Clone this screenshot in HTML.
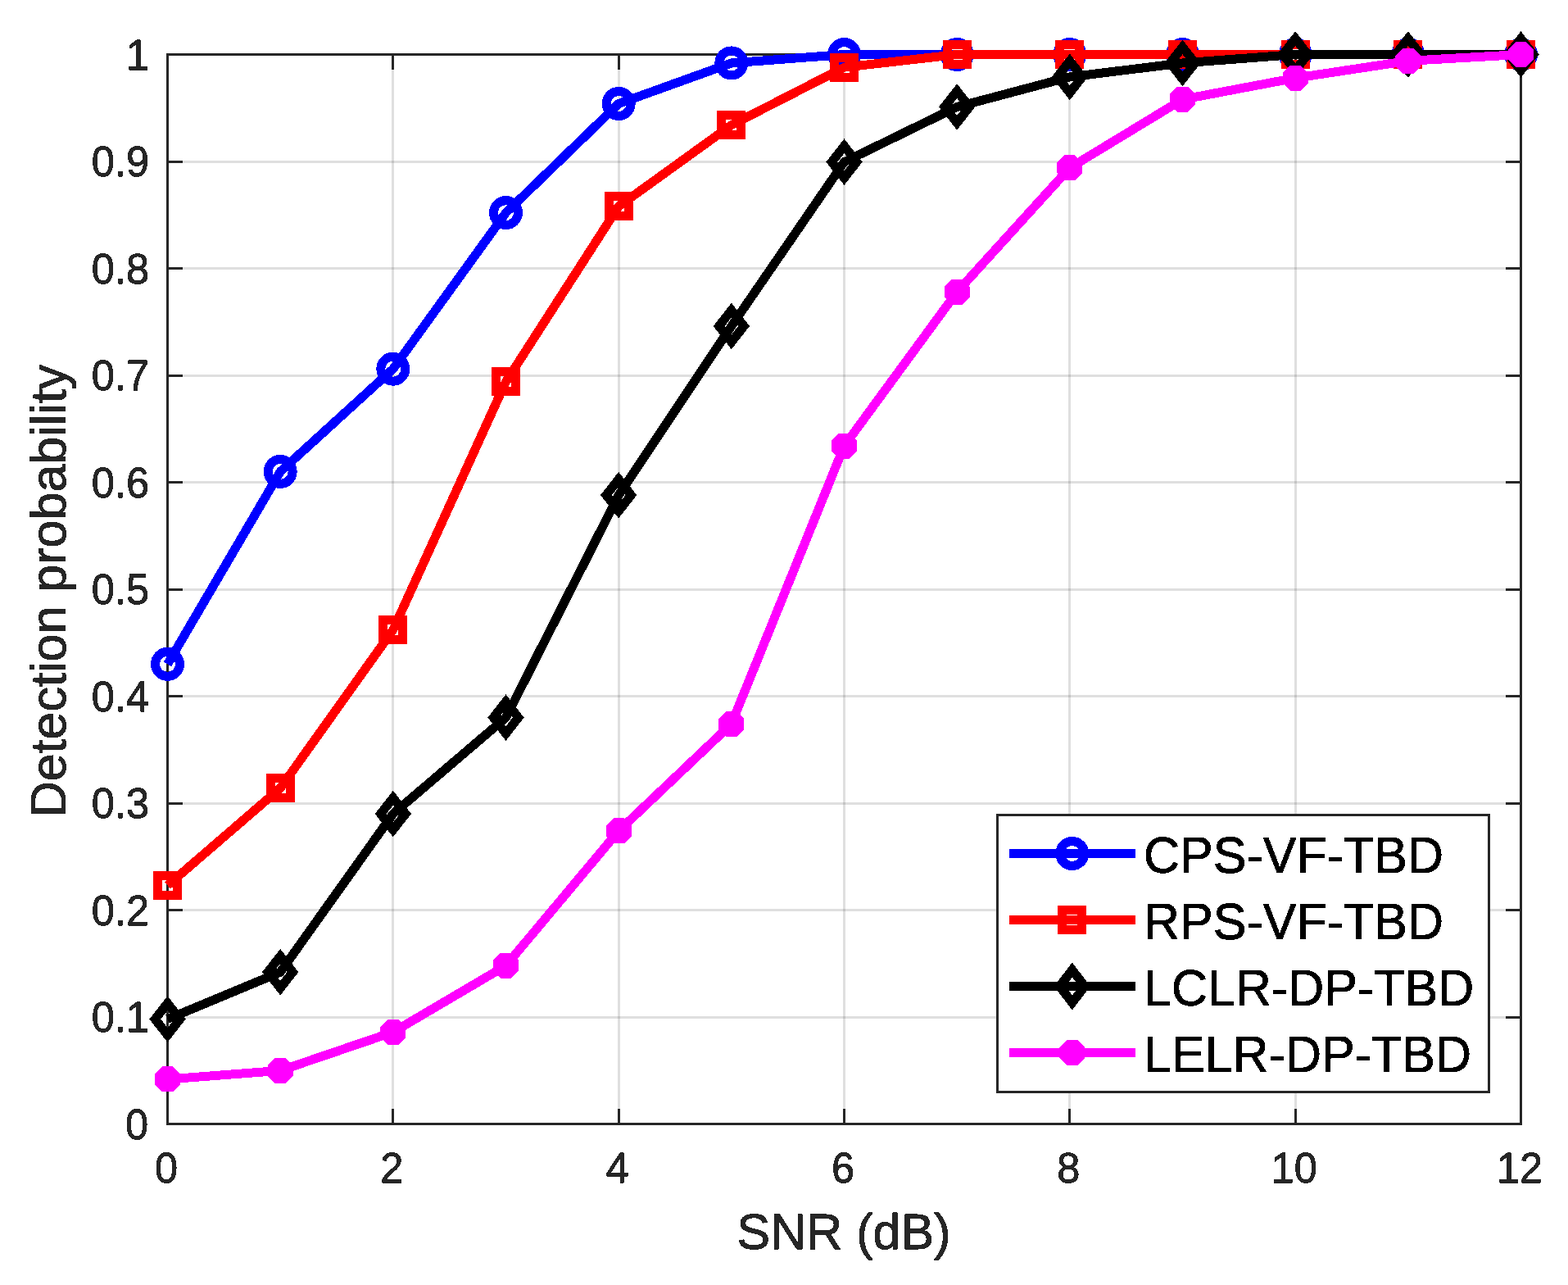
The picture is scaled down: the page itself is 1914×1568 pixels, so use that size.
<!DOCTYPE html>
<html><head><meta charset="utf-8"><title>Detection probability vs SNR</title>
<style>
html,body{margin:0;padding:0;background:#fff;}
svg{display:block;}
text{font-family:"Liberation Sans",Arial,Helvetica,sans-serif;}
</style></head><body>
<svg width="1914" height="1568" viewBox="0 0 1914 1568">
<rect x="0" y="0" width="1914" height="1568" fill="#fff"/>
<defs><filter id="bin" x="-5%" y="-20%" width="110%" height="140%" color-interpolation-filters="sRGB"><feComponentTransfer><feFuncA type="discrete" tableValues="0 1"/></feComponentTransfer></filter></defs>
<g stroke="#262626" stroke-opacity="0.15" stroke-width="3" shape-rendering="crispEdges">
<line x1="479.83" y1="66.5" x2="479.83" y2="1371.5"/>
<line x1="755.17" y1="66.5" x2="755.17" y2="1371.5"/>
<line x1="1030.5" y1="66.5" x2="1030.5" y2="1371.5"/>
<line x1="1305.83" y1="66.5" x2="1305.83" y2="1371.5"/>
<line x1="1581.17" y1="66.5" x2="1581.17" y2="1371.5"/>
<line x1="204.5" y1="1241" x2="1856.5" y2="1241"/>
<line x1="204.5" y1="1110.5" x2="1856.5" y2="1110.5"/>
<line x1="204.5" y1="980" x2="1856.5" y2="980"/>
<line x1="204.5" y1="849.5" x2="1856.5" y2="849.5"/>
<line x1="204.5" y1="719" x2="1856.5" y2="719"/>
<line x1="204.5" y1="588.5" x2="1856.5" y2="588.5"/>
<line x1="204.5" y1="458" x2="1856.5" y2="458"/>
<line x1="204.5" y1="327.5" x2="1856.5" y2="327.5"/>
<line x1="204.5" y1="197" x2="1856.5" y2="197"/>
</g>
<g stroke="#262626" stroke-width="3" shape-rendering="crispEdges">
<line x1="204.5" y1="1371.5" x2="204.5" y2="1353"/>
<line x1="204.5" y1="66.5" x2="204.5" y2="85"/>
<line x1="479.83" y1="1371.5" x2="479.83" y2="1353"/>
<line x1="479.83" y1="66.5" x2="479.83" y2="85"/>
<line x1="755.17" y1="1371.5" x2="755.17" y2="1353"/>
<line x1="755.17" y1="66.5" x2="755.17" y2="85"/>
<line x1="1030.5" y1="1371.5" x2="1030.5" y2="1353"/>
<line x1="1030.5" y1="66.5" x2="1030.5" y2="85"/>
<line x1="1305.83" y1="1371.5" x2="1305.83" y2="1353"/>
<line x1="1305.83" y1="66.5" x2="1305.83" y2="85"/>
<line x1="1581.17" y1="1371.5" x2="1581.17" y2="1353"/>
<line x1="1581.17" y1="66.5" x2="1581.17" y2="85"/>
<line x1="1856.5" y1="1371.5" x2="1856.5" y2="1353"/>
<line x1="1856.5" y1="66.5" x2="1856.5" y2="85"/>
<line x1="204.5" y1="1371.5" x2="223" y2="1371.5"/>
<line x1="1856.5" y1="1371.5" x2="1838" y2="1371.5"/>
<line x1="204.5" y1="1241" x2="223" y2="1241"/>
<line x1="1856.5" y1="1241" x2="1838" y2="1241"/>
<line x1="204.5" y1="1110.5" x2="223" y2="1110.5"/>
<line x1="1856.5" y1="1110.5" x2="1838" y2="1110.5"/>
<line x1="204.5" y1="980" x2="223" y2="980"/>
<line x1="1856.5" y1="980" x2="1838" y2="980"/>
<line x1="204.5" y1="849.5" x2="223" y2="849.5"/>
<line x1="1856.5" y1="849.5" x2="1838" y2="849.5"/>
<line x1="204.5" y1="719" x2="223" y2="719"/>
<line x1="1856.5" y1="719" x2="1838" y2="719"/>
<line x1="204.5" y1="588.5" x2="223" y2="588.5"/>
<line x1="1856.5" y1="588.5" x2="1838" y2="588.5"/>
<line x1="204.5" y1="458" x2="223" y2="458"/>
<line x1="1856.5" y1="458" x2="1838" y2="458"/>
<line x1="204.5" y1="327.5" x2="223" y2="327.5"/>
<line x1="1856.5" y1="327.5" x2="1838" y2="327.5"/>
<line x1="204.5" y1="197" x2="223" y2="197"/>
<line x1="1856.5" y1="197" x2="1838" y2="197"/>
<line x1="204.5" y1="66.5" x2="223" y2="66.5"/>
<line x1="1856.5" y1="66.5" x2="1838" y2="66.5"/>
<rect x="204.5" y="66.5" width="1652" height="1305" fill="none"/>
</g>
<g fill="#262626" stroke="#262626" stroke-width="0.9" font-size="50.5" filter="url(#bin)">
<text transform="translate(203,1443) scale(1,1.025)" text-anchor="middle">0</text>
<text transform="translate(478.33,1443) scale(1,1.025)" text-anchor="middle">2</text>
<text transform="translate(753.67,1443) scale(1,1.025)" text-anchor="middle">4</text>
<text transform="translate(1029,1443) scale(1,1.025)" text-anchor="middle">6</text>
<text transform="translate(1304.33,1443) scale(1,1.025)" text-anchor="middle">8</text>
<text transform="translate(1579.67,1443) scale(1,1.025)" text-anchor="middle">10</text>
<text transform="translate(1855,1443) scale(1,1.025)" text-anchor="middle">12</text>
<text transform="translate(181,1389.5) scale(1,1.025)" text-anchor="end">0</text>
<text transform="translate(182,1259) scale(1,1.025)" text-anchor="end">0.1</text>
<text transform="translate(182,1128.5) scale(1,1.025)" text-anchor="end">0.2</text>
<text transform="translate(182,998) scale(1,1.025)" text-anchor="end">0.3</text>
<text transform="translate(182,867.5) scale(1,1.025)" text-anchor="end">0.4</text>
<text transform="translate(182,737) scale(1,1.025)" text-anchor="end">0.5</text>
<text transform="translate(182,606.5) scale(1,1.025)" text-anchor="end">0.6</text>
<text transform="translate(182,476) scale(1,1.025)" text-anchor="end">0.7</text>
<text transform="translate(182,345.5) scale(1,1.025)" text-anchor="end">0.8</text>
<text transform="translate(182,215) scale(1,1.025)" text-anchor="end">0.9</text>
<text transform="translate(182,84.5) scale(1,1.025)" text-anchor="end">1</text>
</g>
<g filter="url(#bin)"><text transform="translate(1030,1524) scale(1,1.01)" font-size="61" fill="#262626" stroke="#262626" stroke-width="0.9" text-anchor="middle">SNR (dB)</text></g>
<g filter="url(#bin)"><text transform="translate(80,721) rotate(-90) scale(1,1.0)" font-size="61" fill="#262626" stroke="#262626" stroke-width="0.9" text-anchor="middle">Detection probability</text></g>
<g shape-rendering="crispEdges">
<polyline points="204.5,810.35 342.17,575.45 479.83,450.17 617.5,259.64 755.17,126.53 892.83,76.94 1030.5,66.5 1168.17,66.5 1305.83,66.5 1443.5,66.5 1581.17,66.5 1718.83,66.5 1856.5,66.5" fill="none" stroke="#0000ff" stroke-width="11" stroke-linejoin="miter" stroke-miterlimit="10"/>
<circle cx="204.5" cy="810.35" r="15" fill="none" stroke="#0000ff" stroke-width="11"/>
<circle cx="342.17" cy="575.45" r="15" fill="none" stroke="#0000ff" stroke-width="11"/>
<circle cx="479.83" cy="450.17" r="15" fill="none" stroke="#0000ff" stroke-width="11"/>
<circle cx="617.5" cy="259.64" r="15" fill="none" stroke="#0000ff" stroke-width="11"/>
<circle cx="755.17" cy="126.53" r="15" fill="none" stroke="#0000ff" stroke-width="11"/>
<circle cx="892.83" cy="76.94" r="15" fill="none" stroke="#0000ff" stroke-width="11"/>
<circle cx="1030.5" cy="66.5" r="15" fill="none" stroke="#0000ff" stroke-width="11"/>
<circle cx="1168.17" cy="66.5" r="15" fill="none" stroke="#0000ff" stroke-width="11"/>
<circle cx="1305.83" cy="66.5" r="15" fill="none" stroke="#0000ff" stroke-width="11"/>
<circle cx="1443.5" cy="66.5" r="15" fill="none" stroke="#0000ff" stroke-width="11"/>
<circle cx="1581.17" cy="66.5" r="15" fill="none" stroke="#0000ff" stroke-width="11"/>
<circle cx="1718.83" cy="66.5" r="15" fill="none" stroke="#0000ff" stroke-width="11"/>
<circle cx="1856.5" cy="66.5" r="15" fill="none" stroke="#0000ff" stroke-width="11"/>
<polyline points="204.5,1080.49 342.17,961.73 479.83,768.59 617.5,465.83 755.17,251.81 892.83,152.63 1030.5,82.16 1168.17,66.5 1305.83,66.5 1443.5,66.5 1581.17,66.5 1718.83,66.5 1856.5,66.5" fill="none" stroke="#ff0000" stroke-width="11" stroke-linejoin="miter" stroke-miterlimit="10"/>
<rect x="192.5" y="1068.49" width="24" height="24" fill="none" stroke="#ff0000" stroke-width="11"/>
<rect x="330.17" y="949.73" width="24" height="24" fill="none" stroke="#ff0000" stroke-width="11"/>
<rect x="467.83" y="756.59" width="24" height="24" fill="none" stroke="#ff0000" stroke-width="11"/>
<rect x="605.5" y="453.83" width="24" height="24" fill="none" stroke="#ff0000" stroke-width="11"/>
<rect x="743.17" y="239.81" width="24" height="24" fill="none" stroke="#ff0000" stroke-width="11"/>
<rect x="880.83" y="140.63" width="24" height="24" fill="none" stroke="#ff0000" stroke-width="11"/>
<rect x="1018.5" y="70.16" width="24" height="24" fill="none" stroke="#ff0000" stroke-width="11"/>
<rect x="1156.17" y="54.5" width="24" height="24" fill="none" stroke="#ff0000" stroke-width="11"/>
<rect x="1293.83" y="54.5" width="24" height="24" fill="none" stroke="#ff0000" stroke-width="11"/>
<rect x="1431.5" y="54.5" width="24" height="24" fill="none" stroke="#ff0000" stroke-width="11"/>
<rect x="1569.17" y="54.5" width="24" height="24" fill="none" stroke="#ff0000" stroke-width="11"/>
<rect x="1706.83" y="54.5" width="24" height="24" fill="none" stroke="#ff0000" stroke-width="11"/>
<rect x="1844.5" y="54.5" width="24" height="24" fill="none" stroke="#ff0000" stroke-width="11"/>
<polyline points="204.5,1243.61 342.17,1186.19 479.83,993.05 617.5,875.6 755.17,604.16 892.83,397.97 1030.5,197.65 1168.17,130.45 1305.83,93.9 1443.5,76.94 1581.17,66.5 1718.83,66.5 1856.5,66.5" fill="none" stroke="#000000" stroke-width="11" stroke-linejoin="miter" stroke-miterlimit="10"/>
<polygon points="204.5,1224.21 219.7,1243.61 204.5,1263.01 189.3,1243.61" fill="none" stroke="#000000" stroke-width="11" stroke-miterlimit="10"/>
<polygon points="342.17,1166.79 357.37,1186.19 342.17,1205.59 326.97,1186.19" fill="none" stroke="#000000" stroke-width="11" stroke-miterlimit="10"/>
<polygon points="479.83,973.65 495.03,993.05 479.83,1012.45 464.63,993.05" fill="none" stroke="#000000" stroke-width="11" stroke-miterlimit="10"/>
<polygon points="617.5,856.2 632.7,875.6 617.5,895 602.3,875.6" fill="none" stroke="#000000" stroke-width="11" stroke-miterlimit="10"/>
<polygon points="755.17,584.76 770.37,604.16 755.17,623.56 739.97,604.16" fill="none" stroke="#000000" stroke-width="11" stroke-miterlimit="10"/>
<polygon points="892.83,378.57 908.03,397.97 892.83,417.37 877.63,397.97" fill="none" stroke="#000000" stroke-width="11" stroke-miterlimit="10"/>
<polygon points="1030.5,178.25 1045.7,197.65 1030.5,217.05 1015.3,197.65" fill="none" stroke="#000000" stroke-width="11" stroke-miterlimit="10"/>
<polygon points="1168.17,111.05 1183.37,130.45 1168.17,149.85 1152.97,130.45" fill="none" stroke="#000000" stroke-width="11" stroke-miterlimit="10"/>
<polygon points="1305.83,74.5 1321.03,93.9 1305.83,113.3 1290.63,93.9" fill="none" stroke="#000000" stroke-width="11" stroke-miterlimit="10"/>
<polygon points="1443.5,57.54 1458.7,76.94 1443.5,96.34 1428.3,76.94" fill="none" stroke="#000000" stroke-width="11" stroke-miterlimit="10"/>
<polygon points="1581.17,47.1 1596.37,66.5 1581.17,85.9 1565.97,66.5" fill="none" stroke="#000000" stroke-width="11" stroke-miterlimit="10"/>
<polygon points="1718.83,47.1 1734.03,66.5 1718.83,85.9 1703.63,66.5" fill="none" stroke="#000000" stroke-width="11" stroke-miterlimit="10"/>
<polygon points="1856.5,47.1 1871.7,66.5 1856.5,85.9 1841.3,66.5" fill="none" stroke="#000000" stroke-width="11" stroke-miterlimit="10"/>
<polyline points="204.5,1316.95 342.17,1306.38 479.83,1259.4 617.5,1178.36 755.17,1013.93 892.83,883.43 1030.5,544.13 1168.17,356.21 1305.83,204.83 1443.5,121.31 1581.17,95.21 1718.83,74.33 1856.5,66.5" fill="none" stroke="#ff00ff" stroke-width="11" stroke-linejoin="miter" stroke-miterlimit="10"/>
<polygon points="214.5,1321.09 208.64,1326.95 200.36,1326.95 194.5,1321.09 194.5,1312.81 200.36,1306.95 208.64,1306.95 214.5,1312.81" fill="#ff00ff" stroke="#ff00ff" stroke-width="11"/>
<polygon points="352.17,1310.52 346.31,1316.38 338.02,1316.38 332.17,1310.52 332.17,1302.24 338.02,1296.38 346.31,1296.38 352.17,1302.24" fill="#ff00ff" stroke="#ff00ff" stroke-width="11"/>
<polygon points="489.83,1263.54 483.98,1269.4 475.69,1269.4 469.83,1263.54 469.83,1255.26 475.69,1249.4 483.98,1249.4 489.83,1255.26" fill="#ff00ff" stroke="#ff00ff" stroke-width="11"/>
<polygon points="627.5,1182.5 621.64,1188.36 613.36,1188.36 607.5,1182.5 607.5,1174.22 613.36,1168.36 621.64,1168.36 627.5,1174.22" fill="#ff00ff" stroke="#ff00ff" stroke-width="11"/>
<polygon points="765.17,1018.07 759.31,1023.93 751.02,1023.93 745.17,1018.07 745.17,1009.79 751.02,1003.93 759.31,1003.93 765.17,1009.79" fill="#ff00ff" stroke="#ff00ff" stroke-width="11"/>
<polygon points="902.83,887.57 896.98,893.43 888.69,893.43 882.83,887.57 882.83,879.29 888.69,873.43 896.98,873.43 902.83,879.29" fill="#ff00ff" stroke="#ff00ff" stroke-width="11"/>
<polygon points="1040.5,548.27 1034.64,554.13 1026.36,554.13 1020.5,548.27 1020.5,539.99 1026.36,534.13 1034.64,534.13 1040.5,539.99" fill="#ff00ff" stroke="#ff00ff" stroke-width="11"/>
<polygon points="1178.17,360.35 1172.31,366.21 1164.02,366.21 1158.17,360.35 1158.17,352.07 1164.02,346.21 1172.31,346.21 1178.17,352.07" fill="#ff00ff" stroke="#ff00ff" stroke-width="11"/>
<polygon points="1315.83,208.97 1309.98,214.83 1301.69,214.83 1295.83,208.97 1295.83,200.69 1301.69,194.83 1309.98,194.83 1315.83,200.69" fill="#ff00ff" stroke="#ff00ff" stroke-width="11"/>
<polygon points="1453.5,125.45 1447.64,131.31 1439.36,131.31 1433.5,125.45 1433.5,117.17 1439.36,111.31 1447.64,111.31 1453.5,117.17" fill="#ff00ff" stroke="#ff00ff" stroke-width="11"/>
<polygon points="1591.17,99.35 1585.31,105.21 1577.02,105.21 1571.17,99.35 1571.17,91.07 1577.02,85.21 1585.31,85.21 1591.17,91.07" fill="#ff00ff" stroke="#ff00ff" stroke-width="11"/>
<polygon points="1728.83,78.47 1722.98,84.33 1714.69,84.33 1708.83,78.47 1708.83,70.19 1714.69,64.33 1722.98,64.33 1728.83,70.19" fill="#ff00ff" stroke="#ff00ff" stroke-width="11"/>
<polygon points="1866.5,70.64 1860.64,76.5 1852.36,76.5 1846.5,70.64 1846.5,62.36 1852.36,56.5 1860.64,56.5 1866.5,62.36" fill="#ff00ff" stroke="#ff00ff" stroke-width="11"/>
</g>
<rect x="1217.5" y="994.5" width="599.5" height="337.5" fill="#fff" stroke="#262626" stroke-width="3" shape-rendering="crispEdges"/>
<g shape-rendering="crispEdges">
<line x1="1232" y1="1041.5" x2="1386" y2="1041.5" stroke="#0000ff" stroke-width="11"/>
<circle cx="1308.8" cy="1041.5" r="15" fill="none" stroke="#0000ff" stroke-width="11"/>
<line x1="1232" y1="1122.5" x2="1386" y2="1122.5" stroke="#ff0000" stroke-width="11"/>
<rect x="1296.8" y="1110.5" width="24" height="24" fill="none" stroke="#ff0000" stroke-width="11"/>
<line x1="1232" y1="1203.5" x2="1386" y2="1203.5" stroke="#000000" stroke-width="11"/>
<polygon points="1308.8,1183.5 1324.1,1203.5 1308.8,1223.5 1293.5,1203.5" fill="none" stroke="#000000" stroke-width="11" stroke-miterlimit="10"/>
<line x1="1232" y1="1284.5" x2="1386" y2="1284.5" stroke="#ff00ff" stroke-width="11"/>
<polygon points="1318.8,1288.64 1312.94,1294.5 1304.66,1294.5 1298.8,1288.64 1298.8,1280.36 1304.66,1274.5 1312.94,1274.5 1318.8,1280.36" fill="#ff00ff" stroke="#ff00ff" stroke-width="11"/>
</g>
<g fill="#000" stroke="#000" stroke-width="0.9" font-size="61" filter="url(#bin)">
<text transform="translate(1396,1064.9) scale(1,1.02)">CPS-VF-TBD</text>
<text transform="translate(1396,1145.9) scale(1,1.02)">RPS-VF-TBD</text>
<text transform="translate(1396,1226.9) scale(1,1.02)">LCLR-DP-TBD</text>
<text transform="translate(1396,1307.9) scale(1,1.02)">LELR-DP-TBD</text>
</g>
</svg>
</body></html>
